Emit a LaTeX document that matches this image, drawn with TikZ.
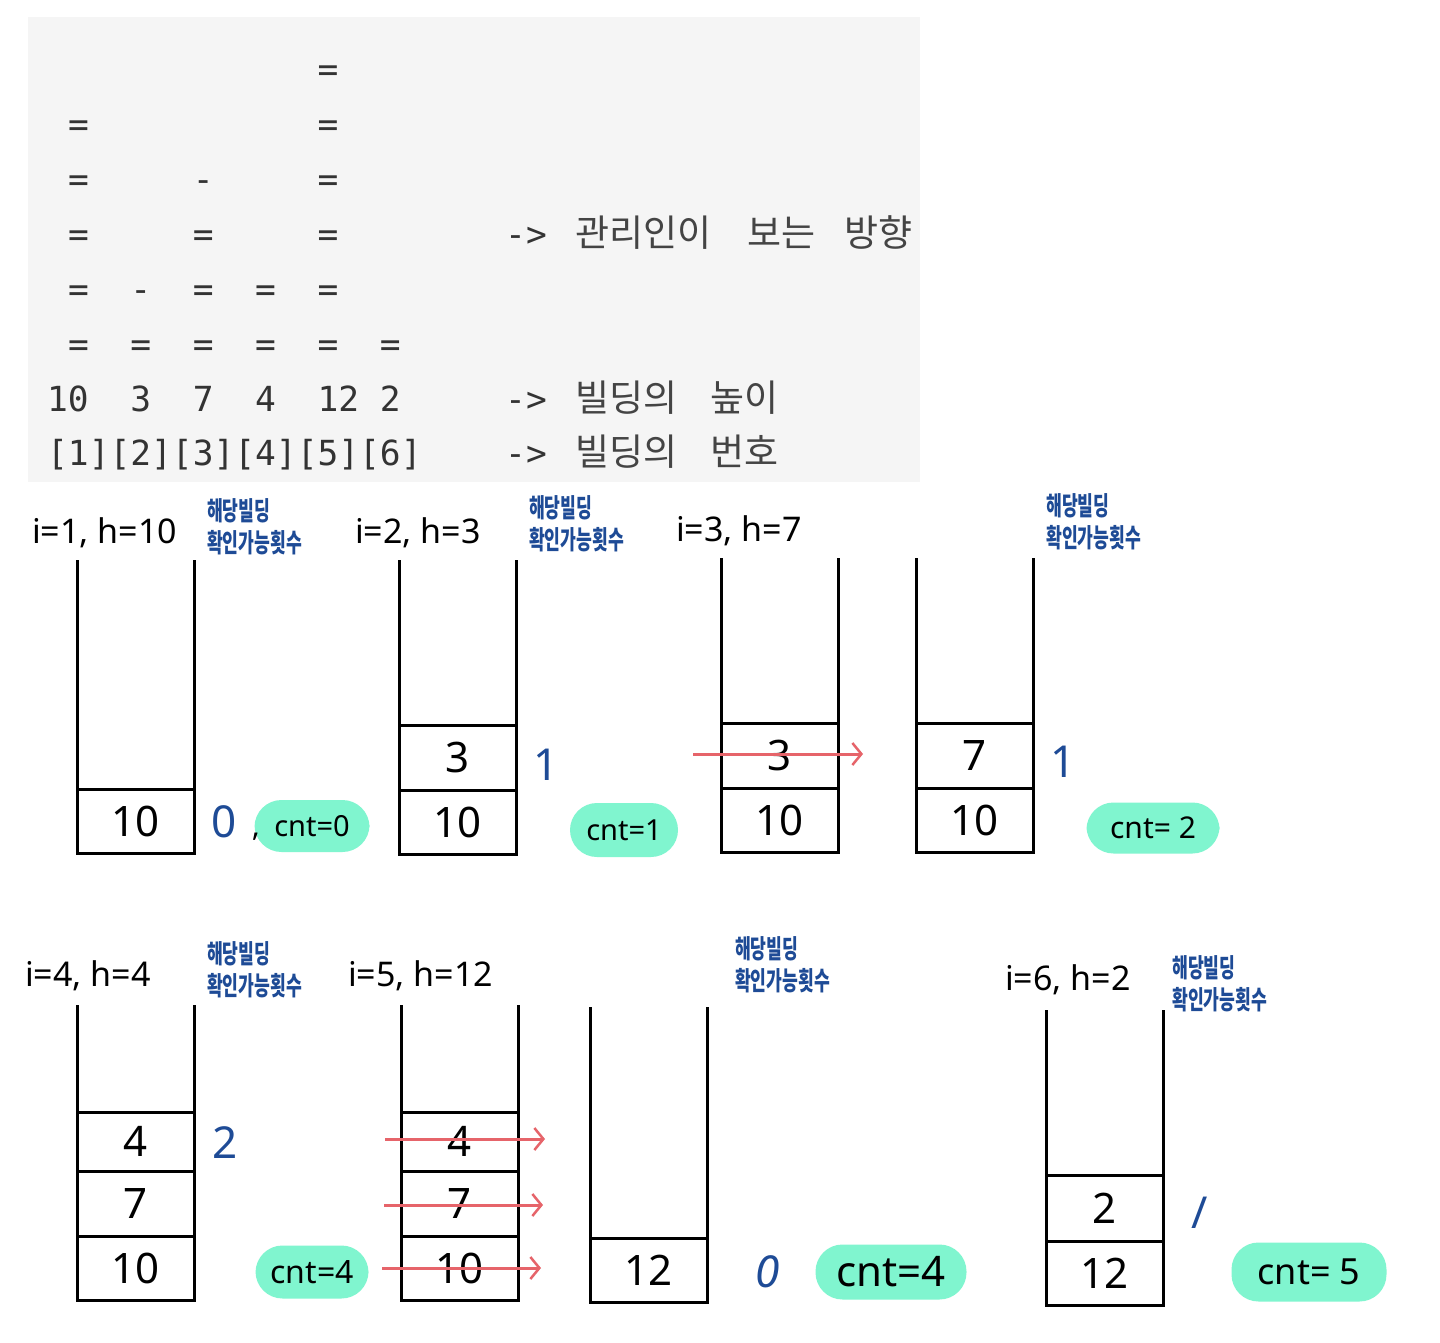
\documentclass[tikz,border=0pt]{standalone}
\usepackage{fontspec}
\usepackage{graphicx}
\setmainfont{Noto Sans}
\newfontfamily\codefont{DejaVu Sans Mono}
\newfontfamily\krfont{Noto Sans CJK KR}
\usetikzlibrary{arrows.meta}
\definecolor{codebg}{HTML}{F5F5F5}
\definecolor{codegray}{HTML}{333333}
\definecolor{krgray}{HTML}{444444}
\definecolor{hblue}{HTML}{1E4B96}
\definecolor{mint}{HTML}{80F5CF}
\definecolor{redc}{HTML}{E6646A}
\begin{document}
\begin{tikzpicture}[x=1pt,y=-1pt,
  wall/.style={line width=3pt,draw=black},
  cell/.style={draw=black,line width=3pt,minimum width=117pt,inner sep=0pt,font=\fontsize{42}{42}\selectfont},
  codeline/.style={anchor=base west,inner sep=0pt,font=\codefont\fontsize{34.55}{40}\selectfont,text=codegray},
  krtext/.style={anchor=base west,inner sep=0pt,font=\krfont\fontsize{37}{40}\selectfont,text=krgray},
  headlab/.style={anchor=base west,inner sep=0pt,font=\fontsize{34}{34}\selectfont},
  bluelab/.style={anchor=west,inner sep=0pt,text=hblue,font=\krfont\bfseries\fontsize{26}{32}\selectfont},
  bluenum/.style={inner sep=0pt,text=hblue,font=\fontsize{44}{44}\selectfont},
  pill/.style={fill=mint,rounded corners=27pt,inner sep=0pt},
  redarrow/.style={draw=redc,line width=3pt,-{Straight Barb[length=9pt,width=22pt,line width=2.5pt]}}
]
\useasboundingbox (0,0) rectangle (1440,1343);
\fill[white] (0,0) rectangle (1440,1343);
% code box
\fill[codebg] (28,17) rectangle (920,482);
\node[codeline] (c1) at (47,81.6) {~~~~~~~~~~~~~=};
\node[codeline] (c2) at (47,136.5) {~=~~~~~~~~~~~=};
\node[codeline] (c3) at (47,191.4) {~=~~~~~-~~~~~=};
\node[codeline] (c4) at (47,246.3) {~=~~~~~=~~~~~=};
\node[codeline] (c5) at (47,301.2) {~=~~-~~=~~=~~=};
\node[codeline] (c6) at (47,356.1) {~=~~=~~=~~=~~=~~=};
\node[codeline] (c7) at (47,411) {10~~3~~7~~4~~12~2};
\node[codeline] (c8) at (47,465.9) {[1][2][3][4][5][6]};
\node[codeline] (ar4) at (505,246.3) {->};
\node[codeline] (ar7) at (505,411) {->};
\node[codeline] (ar8) at (505,465.9) {->};
\node[krtext] (k4a) at (575,246.3) {관리인이};
\node[krtext] (k4b) at (747,246.3) {보는};
\node[krtext] (k4c) at (844,246.3) {방향};
\node[krtext] (k7a) at (575,411) {빌딩의};
\node[krtext] (k7b) at (710,411) {높이};
\node[krtext] (k8a) at (575,465.9) {빌딩의};
\node[krtext] (k8b) at (710,465.9) {번호};

% headings
\node[headlab] (h1) at (32,543) {i=1, h=10};
\node[headlab] (h2) at (355,543) {i=2, h=3};
\node[headlab] (h3) at (676,541) {i=3, h=7};
\node[headlab] (h4) at (25,986) {i=4, h=4};
\node[headlab] (h5) at (348,986) {i=5, h=12};
\node[headlab] (h6) at (1005,990) {i=6, h=2};

% blue labels
\newcommand\bluetext{\scalebox{0.66}[1]{\begin{tabular}{@{}l@{}}해당빌딩\\확인가능횟수\end{tabular}}}
\node[bluelab] (l1) at (207,530) {\bluetext};
\node[bluelab] (l2) at (529,527) {\bluetext};
\node[bluelab] (l3) at (1046,525) {\bluetext};
\node[bluelab] (l4) at (207,973) {\bluetext};
\node[bluelab] (l5) at (735,968) {\bluetext};
\node[bluelab] (l6) at (1172,987) {\bluetext};

% buildings row 1
\draw[wall] (77,560) -- (77,853) -- (194,853) -- (194,560);
\node[cell,minimum height=64pt] (b1a) at (135.5,821) {10};

\draw[wall] (399,560) -- (399,854) -- (516,854) -- (516,560);
\node[cell,minimum height=65pt] (b2b) at (457.5,757.5) {3};
\node[cell,minimum height=64pt] (b2a) at (457.5,822) {10};

\draw[wall] (721,558) -- (721,852) -- (838,852) -- (838,558);
\node[cell,minimum height=65pt] (b3b) at (779.5,755.5) {3};
\node[cell,minimum height=64pt] (b3a) at (779.5,820) {10};

\draw[wall] (916,558) -- (916,852) -- (1033,852) -- (1033,558);
\node[cell,minimum height=65pt] (b4b) at (974.5,755.5) {7};
\node[cell,minimum height=64pt] (b4a) at (974.5,820) {10};

% buildings row 2
\draw[wall] (77,1005) -- (77,1300) -- (194,1300) -- (194,1005);
\node[cell,minimum height=59pt] (b5c) at (135.5,1141.5) {4};
\node[cell,minimum height=65pt] (b5b) at (135.5,1203.5) {7};
\node[cell,minimum height=64pt] (b5a) at (135.5,1268) {10};

\draw[wall] (401,1005) -- (401,1300) -- (518,1300) -- (518,1005);
\node[cell,minimum height=59pt] (b6c) at (459.5,1141.5) {4};
\node[cell,minimum height=65pt] (b6b) at (459.5,1203.5) {7};
\node[cell,minimum height=64pt] (b6a) at (459.5,1268) {10};

\draw[wall] (590,1007) -- (590,1302) -- (707,1302) -- (707,1007);
\node[cell,minimum height=64pt] (b7a) at (648.5,1270) {12};

\draw[wall] (1046,1010) -- (1046,1305) -- (1163,1305) -- (1163,1010);
\node[cell,minimum height=66pt] (b8b) at (1104.5,1208) {2};
\node[cell,minimum height=64pt] (b8a) at (1104.5,1273) {12};

% red arrows
\coordinate (r1s) at (693,754); \coordinate (r1e) at (863,754);
\coordinate (r2s) at (385,1139); \coordinate (r2e) at (545,1139);
\coordinate (r3s) at (384,1205); \coordinate (r3e) at (543,1205);
\coordinate (r4s) at (382,1268); \coordinate (r4e) at (541,1268);
\draw[redarrow] (r1s) -- (r1e);
\draw[redarrow] (r2s) -- (r2e);
\draw[redarrow] (r3s) -- (r3e);
\draw[redarrow] (r4s) -- (r4e);

% blue numbers
\node[bluenum] (n1) at (224,822) {0};
\node[bluenum] (n2) at (546,765) {1};
\node[bluenum] (n3) at (1063,762) {1};
\node[bluenum] (n4) at (225,1143) {2};
\node[bluenum] (n5) at (768,1272) {\textit{0}};
\node[bluenum] (n6) at (1200,1213) {/};

% pills
\node[pill,minimum width=115pt,minimum height=52pt,font=\fontsize{29}{29}\selectfont] (p1) at (312,826) {cnt=0};
\node[inner sep=0pt,font=\fontsize{30}{30}\selectfont,anchor=base] (comma) at (256,836) {,};
\node[pill,minimum width=108pt,minimum height=54pt,font=\fontsize{29}{29}\selectfont] (p2) at (624,830) {cnt=1};
\node[pill,minimum width=133pt,minimum height=51pt,font=\fontsize{30}{30}\selectfont] (p3) at (1153,828) {cnt= 2};
\node[pill,minimum width=113pt,minimum height=53pt,font=\fontsize{32}{32}\selectfont] (p4) at (312,1272) {cnt=4};
\node[pill,minimum width=151pt,minimum height=55pt,font=\fontsize{42}{42}\selectfont] (p5) at (891,1272) {cnt=4};
\node[pill,minimum width=155pt,minimum height=59pt,font=\fontsize{36}{36}\selectfont] (p6) at (1309,1272) {cnt= 5};
\end{tikzpicture}
\end{document}
